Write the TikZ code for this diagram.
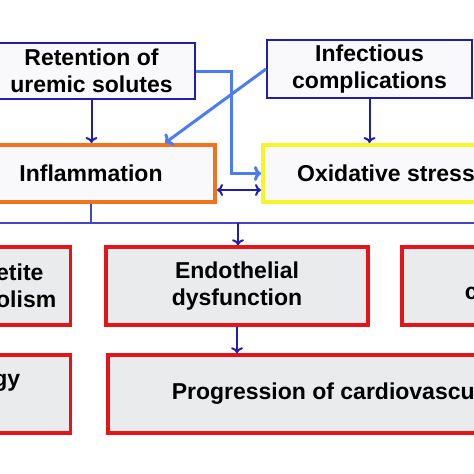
\documentclass[tikz,border=0pt]{standalone}
\usepackage{fontspec}
\setmainfont{Liberation Sans}
\usepackage{tikz}
\usetikzlibrary{arrows.meta}
\definecolor{darkblue}{RGB}{30,30,175}
\definecolor{lightblue}{RGB}{75,125,240}
\definecolor{busblue}{RGB}{70,70,195}
\definecolor{boxorange}{RGB}{240,115,30}
\definecolor{boxyellow}{RGB}{245,245,40}
\definecolor{boxred}{RGB}{228,20,25}
\definecolor{boxgray}{RGB}{234,235,237}
\definecolor{boxwhite}{RGB}{249,249,251}

\begin{document}
\begin{tikzpicture}[x=1pt,y=-1pt,
    font=\bfseries\fontsize{23}{27}\selectfont,
    box/.style={draw,align=center,inner sep=0pt},
    bluebox/.style={box,draw=darkblue,line width=2pt,fill=boxwhite},
    redbox/.style={box,draw=boxred,line width=3.5pt,fill=boxgray,minimum height=78pt},
    darr/.style={darkblue,line width=2pt,-{To[length=6pt,width=12pt]}},
    lbarr/.style={lightblue,line width=3pt,-{To[length=7pt,width=15pt]}}]
  \useasboundingbox (0,0) rectangle (474,474);
  \clip (0,0) rectangle (474,474);
  \fill[white] (0,0) rectangle (474,474);
  % causes
  \node[bluebox,minimum width=207pt,minimum height=56pt] (ret) at (91.5,71) {Retention of\\uremic solutes};
  \node[bluebox,minimum width=205pt,minimum height=58pt] (inf) at (369.5,69) {Infectious\\complications};
  \node[box,draw=boxorange,line width=4pt,fill=boxwhite,minimum width=248pt,minimum height=57pt] (infl) at (91,173.5) {Inflammation};
  \node[box,draw=boxyellow,line width=4pt,fill=boxwhite,minimum width=246pt,minimum height=57pt] (oxi) at (386,173.5) {Oxidative stress};
  % consequences
  \node[redbox,anchor=east,align=left,inner xsep=14pt] (appet) at (72,286) {etite\\olism};
  \node[redbox,minimum width=262pt] (endo) at (237,286) {Endothelial\\dysfunction};
  \node[redbox,anchor=west,align=left,inner xsep=63pt] (right) at (400,286) {\mbox{}\\c};
  \node[redbox,anchor=east,align=left,inner xsep=50pt] (gy) at (72,394) {gy\\\mbox{}};
  \node[redbox,anchor=west,inner xsep=64pt] (prog) at (106,394) {Progression of cardiovascu};
  % connectors
  \coordinate (busL) at (0,223);
  \coordinate (busR) at (474,223);
  \draw[darr] (ret.south) -- (ret.south |- infl.north);
  \draw[darr] (inf.south) -- (inf.south |- oxi.north);
  \draw[lbarr] (ret.east) -- ++(35,0) |- (oxi.west);
  \draw[lbarr] (inf.west) -- ([xshift=74pt]infl.north);
  \draw[darr,{To[length=6pt,width=12pt]}-{To[length=6pt,width=12pt]}] ([yshift=-16.5pt]infl.east) -- ([yshift=-16.5pt]oxi.west);
  \draw[busblue,line width=1.5pt] (infl.south) -- (infl.south |- busL);
  \draw[busblue,line width=1.5pt] (busL) -- (busR);
  \draw[darr] ([xshift=1pt]endo.north |- busL) -- ([xshift=1pt]endo.north);
  \draw[darr] (endo.south) -- (endo.south |- prog.north);
\end{tikzpicture}
\end{document}
